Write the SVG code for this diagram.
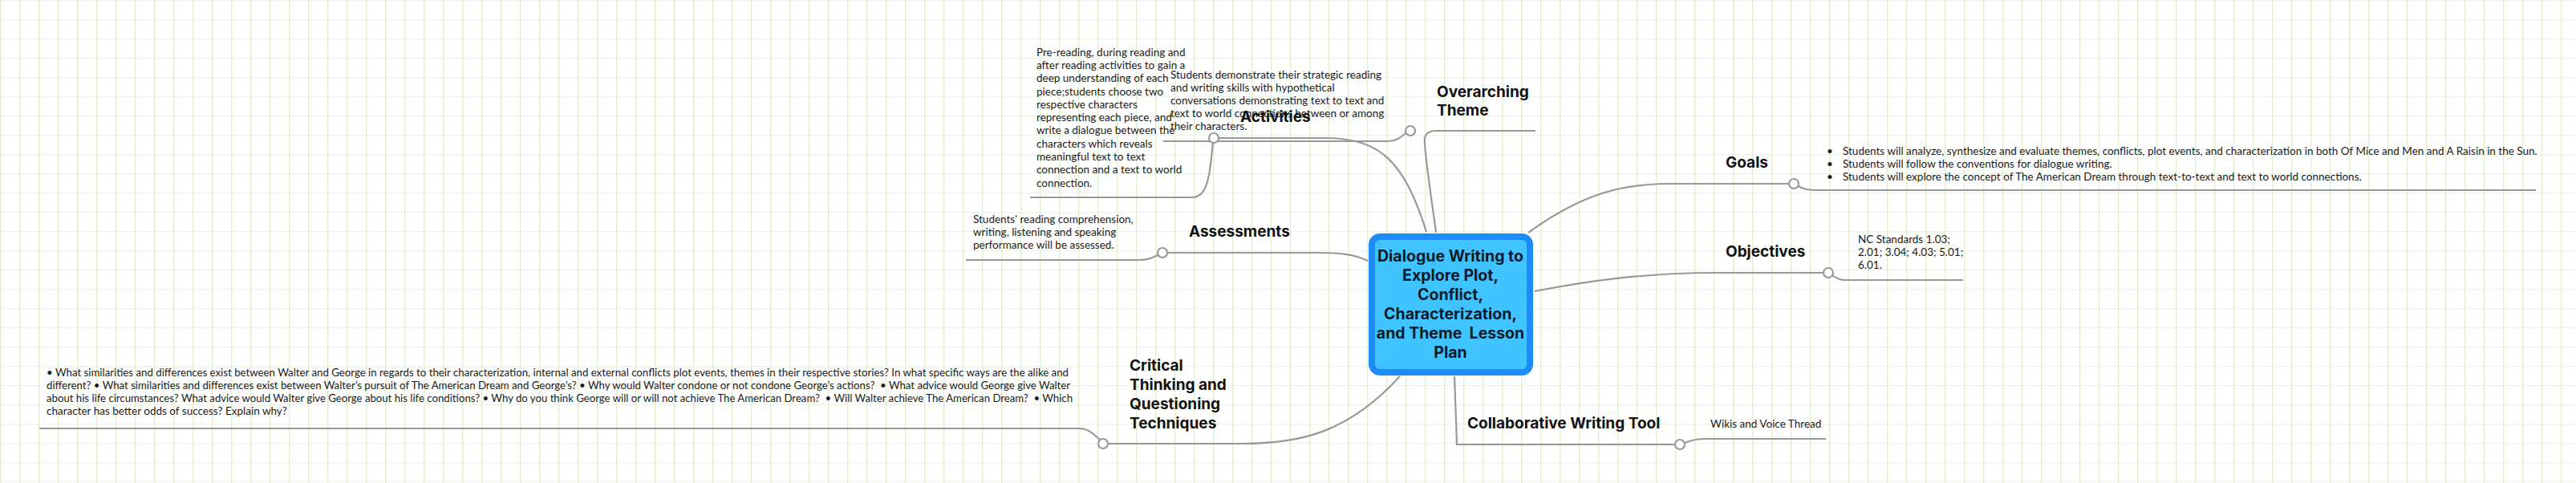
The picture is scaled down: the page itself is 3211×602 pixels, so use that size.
<svg xmlns="http://www.w3.org/2000/svg" width="3211" height="602" viewBox="0 0 3211 602">
<defs>
<pattern id="grid" width="24" height="24" patternUnits="userSpaceOnUse">
<rect width="24" height="24" fill="#ffffff"/>
<path d="M0,0.5 H24" stroke="#eef4e8" stroke-width="1.5"/>
<path d="M0.5,0 V24" stroke="#e2ecd6" stroke-width="1.5"/>
</pattern>
<style>
.lbl{font-family:Inter,"Liberation Sans",sans-serif;font-weight:700;font-size:19px;fill:#111}
.txt{font-family:Lato,"Liberation Sans",sans-serif;font-size:13.5px;fill:#1a1a1a}
.cen{font-family:Inter,"Liberation Sans",sans-serif;font-weight:700;font-size:19.5px;fill:#0c1a2a;text-anchor:middle}
.edge{fill:none;stroke:#999;stroke-width:2.2}
.dot{fill:#fff;stroke:#999;stroke-width:2.2}
</style>
</defs>
<rect width="3211" height="602" fill="url(#grid)"/>
<g id="connectors">
<path class="edge" d="M1790,290 C1782,230 1774,180 1776,172 Q1778,163 1790,163 L1914,163"/>
<path class="edge" d="M1752,166 C1745,172 1740,176 1730,176 L1450,176"/>
<path class="edge" d="M1778,289 C1750,200 1720,172 1651,172 L1519,172"/>
<path class="edge" d="M1512,178 C1508,210 1508,246 1486,246 L1284,246"/>
<path class="edge" d="M1705,325 C1690,318 1675,315 1640,315 L1455,315"/>
<path class="edge" d="M1443,318 C1435,322 1430,324 1420,324 L1204,324"/>
<path class="edge" d="M1905,290 C1960,250 2010,229 2080,229 L2230,229"/>
<path class="edge" d="M2241,232 C2249,236 2254,237 2262,237 L3161,237"/>
<path class="edge" d="M1913,363 C1980,350 2050,340 2140,340 L2273,340"/>
<path class="edge" d="M2284,343 C2290,348 2295,349 2300,349 L2447,349"/>
<path class="edge" d="M1813,469 L1816,554 L2088,554"/>
<path class="edge" d="M2100,552 C2110,548 2115,547 2125,547 L2276,547"/>
<path class="edge" d="M1745,469 C1680,540 1620,553 1547,553 L1381,553"/>
<path class="edge" d="M1371,548 C1360,538 1355,534 1345,534 L49,534"/>
</g>
<g id="center">
<rect x="1706" y="291" width="205" height="177" rx="14" fill="#1E8CF8"/>
<rect x="1714" y="299" width="189" height="161" rx="6" fill="#40C4FF"/>
<text class="cen" x="1808" y="326">Dialogue Writing to</text>
<text class="cen" x="1808" y="350">Explore Plot,</text>
<text class="cen" x="1808" y="374">Conflict,</text>
<text class="cen" x="1808" y="398">Characterization,</text>
<text class="cen" x="1808" y="422" xml:space="preserve">and Theme  Lesson</text>
<text class="cen" x="1808" y="446">Plan</text>
</g>
<g id="overarching">
<circle class="dot" cx="1758" cy="163" r="6"/>
<text class="lbl" x="1791" y="121">Overarching</text>
<text class="lbl" x="1791" y="144">Theme</text>
</g>
<g id="overarching-child">
<text class="txt" x="1459" y="98">Students demonstrate their strategic reading</text>
<text class="txt" x="1459" y="114">and writing skills with hypothetical</text>
<text class="txt" x="1459" y="130">conversations demonstrating text to text and</text>
<text class="txt" x="1459" y="146">text to world connections between or among</text>
<text class="txt" x="1459" y="162">their characters.</text>
</g>
<g id="activities">
<circle class="dot" cx="1513" cy="172" r="6"/>
<text class="lbl" x="1546" y="152">Activities</text>
</g>
<g id="activities-child">
<text class="txt" x="1292" y="70">Pre-reading, during reading and</text>
<text class="txt" x="1292" y="86">after reading activities to gain a</text>
<text class="txt" x="1292" y="102">deep understanding of each</text>
<text class="txt" x="1292" y="119">piece;students choose two</text>
<text class="txt" x="1292" y="135">respective characters</text>
<text class="txt" x="1292" y="151">representing each piece, and</text>
<text class="txt" x="1292" y="167">write a dialogue between the</text>
<text class="txt" x="1292" y="184">characters which reveals</text>
<text class="txt" x="1292" y="200">meaningful text to text</text>
<text class="txt" x="1292" y="216">connection and a text to world</text>
<text class="txt" x="1292" y="233">connection.</text>
</g>
<g id="assessments">
<circle class="dot" cx="1449" cy="315" r="6"/>
<text class="lbl" x="1482" y="295">Assessments</text>
</g>
<g id="assessments-child">
<text class="txt" x="1213" y="278">Students' reading comprehension,</text>
<text class="txt" x="1213" y="294">writing, listening and speaking</text>
<text class="txt" x="1213" y="310">performance will be assessed.</text>
</g>
<g id="goals">
<circle class="dot" cx="2236" cy="229" r="6"/>
<text class="lbl" x="2151" y="209">Goals</text>
</g>
<g id="goals-child">
<text class="txt" x="2277" y="193">•</text>
<text class="txt" x="2297" y="193">Students will analyze, synthesize and evaluate themes, conflicts, plot events, and characterization in both Of Mice and Men and A Raisin in the Sun.</text>
<text class="txt" x="2277" y="209">•</text>
<text class="txt" x="2297" y="209">Students will follow the conventions for dialogue writing.</text>
<text class="txt" x="2277" y="225">•</text>
<text class="txt" x="2297" y="225">Students will explore the concept of The American Dream through text-to-text and text to world connections.</text>
</g>
<g id="objectives">
<circle class="dot" cx="2279" cy="340" r="6"/>
<text class="lbl" x="2151" y="320">Objectives</text>
</g>
<g id="objectives-child">
<text class="txt" x="2316" y="303">NC Standards 1.03;</text>
<text class="txt" x="2316" y="319">2.01; 3.04; 4.03; 5.01;</text>
<text class="txt" x="2316" y="335">6.01.</text>
</g>
<g id="collaborative">
<circle class="dot" cx="2094" cy="554" r="6"/>
<text class="lbl" x="1829" y="534">Collaborative Writing Tool</text>
</g>
<g id="collaborative-child">
<text class="txt" x="2132" y="533">Wikis and Voice Thread</text>
</g>
<g id="critical">
<circle class="dot" cx="1375" cy="553" r="6"/>
<text class="lbl" x="1408" y="462">Critical</text>
<text class="lbl" x="1408" y="486">Thinking and</text>
<text class="lbl" x="1408" y="510">Questioning</text>
<text class="lbl" x="1408" y="534">Techniques</text>
</g>
<g id="critical-child">
<text class="txt" x="58" y="469" textLength="1274" lengthAdjust="spacingAndGlyphs">• What similarities and differences exist between Walter and George in regards to their characterization, internal and external conflicts plot events, themes in their respective stories? In what specific ways are the alike and</text>
<text class="txt" x="58" y="485" textLength="1276" lengthAdjust="spacingAndGlyphs" xml:space="preserve">different? • What similarities and differences exist between Walter’s pursuit of The American Dream and George’s? • Why would Walter condone or not condone George’s actions?  • What advice would George give Walter</text>
<text class="txt" x="58" y="501" textLength="1279" lengthAdjust="spacingAndGlyphs" xml:space="preserve">about his life circumstances? What advice would Walter give George about his life conditions? • Why do you think George will or will not achieve The American Dream?  • Will Walter achieve The American Dream?  • Which</text>
<text class="txt" x="58" y="517">character has better odds of success? Explain why?</text>
</g>
</svg>
